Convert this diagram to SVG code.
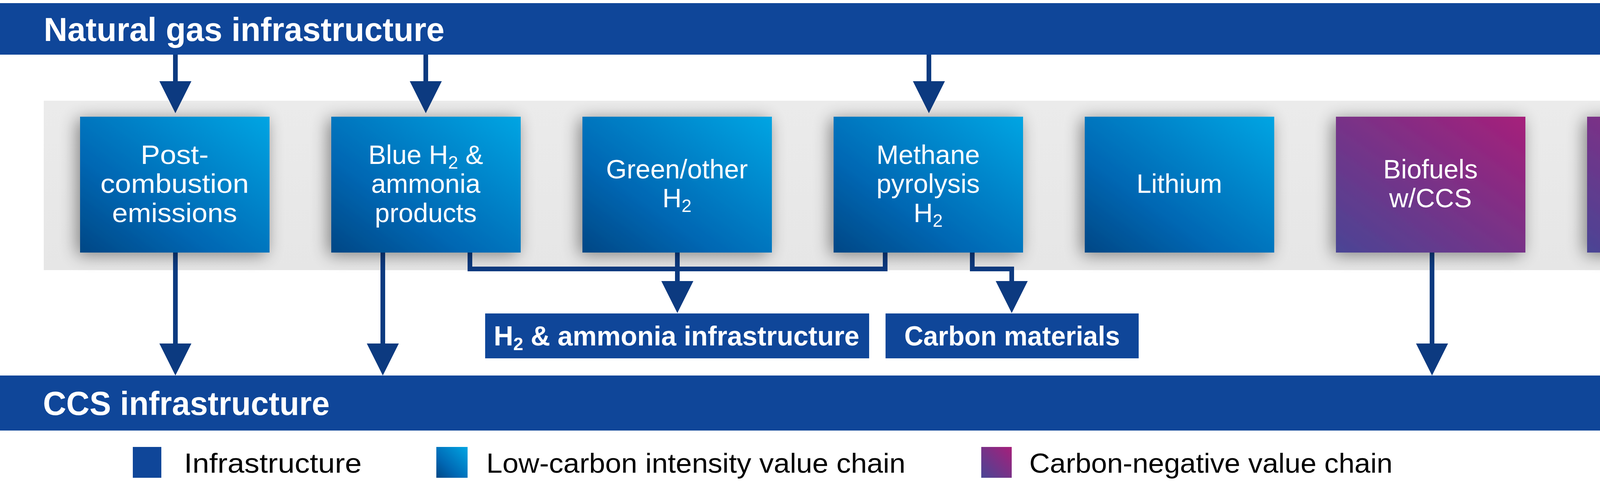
<svg xmlns="http://www.w3.org/2000/svg" width="4762" height="1263" viewBox="0 0 4762 1263">
<style>
.bar{fill:#0f4699}
.t{font-family:"Liberation Sans",Arial,sans-serif;fill:#fff;font-weight:bold}
.bt{font-family:"Liberation Sans",Arial,sans-serif;fill:#fff;font-size:68px;text-anchor:middle}
.lg{font-family:"Liberation Sans",Arial,sans-serif;fill:#000;font-size:70px}
.ln{stroke:#0c3a80;stroke-width:12;fill:none}
.ah{fill:#0c3a80}
</style>
<defs>
<linearGradient id="gb" x1="0" y1="1" x2="1" y2="0">
<stop offset="0" stop-color="#004785"/><stop offset="0.35" stop-color="#0067b3"/><stop offset="1" stop-color="#00a5e3"/>
</linearGradient>
<linearGradient id="gp" x1="0" y1="1" x2="1" y2="0">
<stop offset="0" stop-color="#4a4595"/><stop offset="1" stop-color="#a61f7a"/>
</linearGradient>
<linearGradient id="gband" x1="0" y1="0" x2="0" y2="1">
<stop offset="0" stop-color="#ebebeb"/><stop offset="1" stop-color="#e6e6e6"/>
</linearGradient>
<filter id="sh" x="-30%" y="-30%" width="160%" height="160%">
<feGaussianBlur in="SourceAlpha" stdDeviation="22"/>
<feOffset dx="-8" dy="6"/>
<feComponentTransfer><feFuncA type="linear" slope="0.45"/></feComponentTransfer>
<feMerge><feMergeNode/><feMergeNode in="SourceGraphic"/></feMerge>
</filter>
<path id="ar" d="M-41,0 L41,0 L0,82 Z"/>
</defs>
<rect width="4762" height="1263" fill="#fff"/>
<rect x="112" y="258" width="4550" height="434" fill="url(#gband)"/>

<g id="natural-gas">
<rect class="bar" x="0" y="8" width="4762" height="132"/>
<text class="t" x="112" y="105" font-size="86" textLength="1026" lengthAdjust="spacingAndGlyphs">Natural gas infrastructure</text>
</g>
<g id="ccs">
<rect class="bar" x="0" y="962" width="4762" height="141"/>
<text class="t" x="110" y="1063" font-size="86" textLength="734" lengthAdjust="spacingAndGlyphs">CCS infrastructure</text>
</g>

<g id="connectors">
<path class="ln" d="M449,140 V210"/><use href="#ar" class="ah" x="449" y="208"/>
<path class="ln" d="M1090,140 V210"/><use href="#ar" class="ah" x="1090" y="208"/>
<path class="ln" d="M2378,140 V210"/><use href="#ar" class="ah" x="2378" y="208"/>
<path class="ln" d="M449,647 V882"/><use href="#ar" class="ah" x="449" y="880"/>
<path class="ln" d="M980,647 V882"/><use href="#ar" class="ah" x="980" y="880"/>
<path class="ln" d="M3666,647 V882"/><use href="#ar" class="ah" x="3666" y="880"/>
<path class="ln" d="M4307,647 V882"/><use href="#ar" class="ah" x="4307" y="880"/>
<path class="ln" d="M1203,647 V689 H2266 V647"/>
<path class="ln" d="M1734,647 V722"/><use href="#ar" class="ah" x="1734" y="720"/>
<path class="ln" d="M2489,647 V689 H2590 V722"/><use href="#ar" class="ah" x="2590" y="720"/>
</g>

<g id="post-combustion" filter="url(#sh)">
<rect x="205" y="299" width="485" height="348" fill="url(#gb)"/>
<text class="bt" x="447" y="420" textLength="174" lengthAdjust="spacingAndGlyphs">Post-</text>
<text class="bt" x="447" y="494" textLength="380" lengthAdjust="spacingAndGlyphs">combustion</text>
<text class="bt" x="447" y="569" textLength="320" lengthAdjust="spacingAndGlyphs">emissions</text>
</g>
<g id="blue-h2" filter="url(#sh)">
<rect x="848" y="299" width="485" height="348" fill="url(#gb)"/>
<text class="bt" x="1090" y="420">Blue H<tspan font-size="46" dy="12">2</tspan><tspan dy="-12"> &amp;</tspan></text>
<text class="bt" x="1090" y="494">ammonia</text>
<text class="bt" x="1090" y="569">products</text>
</g>
<g id="green-h2" filter="url(#sh)">
<rect x="1491" y="299" width="485" height="348" fill="url(#gb)"/>
<text class="bt" x="1733" y="457">Green/other</text>
<text class="bt" x="1733" y="531">H<tspan font-size="46" dy="12">2</tspan></text>
</g>
<g id="methane-pyrolysis" filter="url(#sh)">
<rect x="2134" y="299" width="485" height="348" fill="url(#gb)"/>
<text class="bt" x="2376" y="420">Methane</text>
<text class="bt" x="2376" y="494">pyrolysis</text>
<text class="bt" x="2376" y="569">H<tspan font-size="46" dy="12">2</tspan></text>
</g>
<g id="lithium" filter="url(#sh)">
<rect x="2777" y="299" width="485" height="348" fill="url(#gb)"/>
<text class="bt" x="3019" y="494">Lithium</text>
</g>
<g id="biofuels" filter="url(#sh)">
<rect x="3420" y="299" width="485" height="348" fill="url(#gp)"/>
<text class="bt" x="3662" y="457">Biofuels</text>
<text class="bt" x="3662" y="531">w/CCS</text>
</g>
<g id="cdr" filter="url(#sh)">
<rect x="4063" y="299" width="485" height="348" fill="url(#gp)"/>
<text class="bt" x="4305" y="420">Carbon</text>
<text class="bt" x="4305" y="494">dioxide</text>
<text class="bt" x="4305" y="569">removal</text>
</g>

<g id="h2-infra">
<rect class="bar" x="1242" y="803" width="983" height="115"/>
<text class="t" x="1264" y="885" font-size="70" font-weight="normal" textLength="936" lengthAdjust="spacingAndGlyphs">H<tspan font-size="46" dy="12">2</tspan><tspan dy="-12"> &amp; ammonia infrastructure</tspan></text>
</g>
<g id="carbon-materials">
<rect class="bar" x="2267" y="803" width="648" height="115"/>
<text class="t" x="2315" y="885" font-size="70" font-weight="normal" textLength="552" lengthAdjust="spacingAndGlyphs">Carbon materials</text>
</g>

<g id="legend">
<rect class="bar" x="340" y="1145" width="73" height="79"/>
<text class="lg" x="471" y="1211" textLength="455" lengthAdjust="spacingAndGlyphs">Infrastructure</text>
<rect x="1117" y="1145" width="80" height="79" fill="url(#gb)"/>
<text class="lg" x="1245" y="1211" textLength="1073" lengthAdjust="spacingAndGlyphs">Low-carbon intensity value chain</text>
<rect x="2512" y="1145" width="78" height="79" fill="url(#gp)"/>
<text class="lg" x="2635" y="1211" textLength="930" lengthAdjust="spacingAndGlyphs">Carbon-negative value chain</text>
</g>
</svg>
